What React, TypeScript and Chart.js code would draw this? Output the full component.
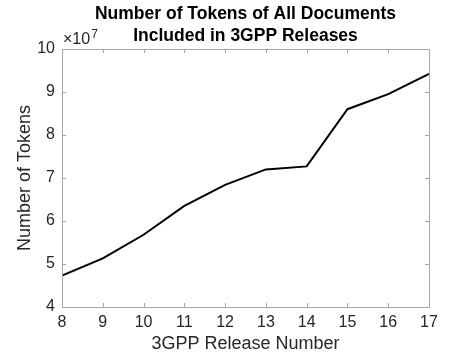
import React, { useEffect, useRef } from "react";
import { Chart, registerables } from "chart.js";

Chart.register(...registerables);

const releases = [8, 9, 10, 11, 12, 13, 14, 15, 16, 17];
const tokens = [4.73e7, 5.13e7, 5.68e7, 6.35e7, 6.84e7, 7.2e7, 7.27e7, 8.6e7, 8.95e7, 9.42e7];
const yTickMin = 4e7;
const yTickMax = 10e7;
const yStep = 1e7;
const xMin = 8;
const xMax = 17;
const titleLines = ["Number of Tokens of All Documents", "Included in 3GPP Releases"];
const xTitle = "3GPP Release Number";
const yTitle = "Number of Tokens";

const FONT = "'Liberation Sans', Arial, Helvetica, sans-serif";
const BOX = "#a6a6a6";
const TXT = "#262626";

const boxPlugin = {
  id: "matlabBox",
  afterDraw(chart: any) {
    const { ctx, chartArea: a, scales } = chart;
    const x = scales.x;
    const y = scales.y;
    ctx.save();
    ctx.strokeStyle = BOX;
    ctx.lineWidth = 1;
    ctx.beginPath();
    ctx.rect(Math.round(a.left) + 0.5, Math.round(a.top) + 0.5, Math.round(a.right - a.left), Math.round(a.bottom - a.top));
    ctx.stroke();
    const tl = 4;
    ctx.beginPath();
    x.ticks.forEach((t: any) => {
      const px = Math.round(x.getPixelForValue(t.value)) + 0.5;
      ctx.moveTo(px, a.bottom);
      ctx.lineTo(px, a.bottom - tl);
      ctx.moveTo(px, a.top);
      ctx.lineTo(px, a.top + tl);
    });
    y.ticks.forEach((t: any) => {
      const py = Math.round(y.getPixelForValue(t.value)) + 0.5;
      ctx.moveTo(a.left, py);
      ctx.lineTo(a.left + tl, py);
      ctx.moveTo(a.right, py);
      ctx.lineTo(a.right - tl, py);
    });
    ctx.stroke();

    // title
    ctx.fillStyle = "#000";
    ctx.textAlign = "center";
    ctx.textBaseline = "middle";
    ctx.font = `bold 17.5px ${FONT}`;
    const cx = (a.left + a.right) / 2;
    ctx.fillText(titleLines[0], cx, 14);
    ctx.fillText(titleLines[1], cx, 36.5);

    // exponent
    ctx.fillStyle = TXT;
    ctx.textAlign = "left";
    ctx.textBaseline = "alphabetic";
    ctx.font = `16px ${FONT}`;
    ctx.fillText("\u00d710", a.left + 1, 44);
    const w = ctx.measureText("\u00d710").width;
    ctx.font = `12px ${FONT}`;
    ctx.fillText("7", a.left + 1 + w + 1, 38);
    ctx.restore();
  },
};

export default function App() {
  const ref = useRef<HTMLCanvasElement | null>(null);
  useEffect(() => {
    document.body.style.margin = "0";
    const chart = new Chart(ref.current as HTMLCanvasElement, {
      type: "line",
      data: {
        datasets: [
          {
            data: releases.map((r, i) => ({ x: r, y: tokens[i] })),
            borderColor: "#000",
            borderWidth: 2,
            pointRadius: 0,
            tension: 0,
            fill: false,
          },
        ],
      },
      options: {
        animation: false,
        responsive: false,
        maintainAspectRatio: false,
        layout: { padding: { top: 49, right: 45, left: 0, bottom: 0 } },
        plugins: { legend: { display: false }, tooltip: { enabled: false }, title: { display: false } },
        scales: {
          x: {
            type: "linear",
            min: xMin,
            max: xMax,
            ticks: { stepSize: 1, color: TXT, font: { family: FONT, size: 16 }, padding: 6, maxRotation: 0 },
            grid: { display: false, drawTicks: false },
            border: { display: false },
            title: { display: true, text: xTitle, color: TXT, font: { family: FONT, size: 18 }, padding: { top: 0, bottom: 0 } },
            afterFit(s: any) {
              s.height = 48;
            },
          },
          y: {
            type: "linear",
            min: yTickMin,
            max: yTickMax,
            ticks: {
              stepSize: yStep,
              color: TXT,
              font: { family: FONT, size: 16 },
              padding: 7,
              callback: (v: any) => String(Number(v) / 1e7),
            },
            grid: { display: false, drawTicks: false },
            border: { display: false },
            title: { display: true, text: yTitle, color: TXT, font: { family: FONT, size: 18 }, padding: { top: 14, bottom: 0 } },
            afterFit(s: any) {
              s.width = 62;
            },
          },
        },
      },
      plugins: [boxPlugin],
    } as any);
    return () => chart.destroy();
  }, []);
  return (
    <div style={{ width: 474, height: 355, background: "#fff" }}>
      <canvas ref={ref} width={474} height={355} style={{ display: "block" }} />
    </div>
  );
}
